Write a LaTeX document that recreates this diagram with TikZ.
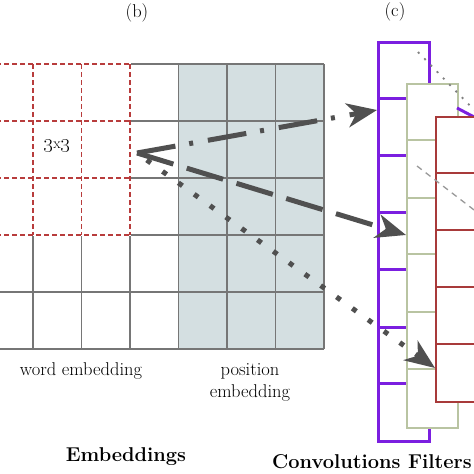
\documentclass[tikz,border=0pt]{standalone}
\usetikzlibrary{arrows.meta}
\definecolor{gridgray}{HTML}{767676}
\definecolor{posfill}{HTML}{D4DFE1}
\definecolor{winred}{HTML}{B83C3C}
\definecolor{filpurple}{HTML}{7B1FE0}
\definecolor{filgreen}{HTML}{B9C4A2}
\definecolor{filred}{HTML}{A83A3A}
\definecolor{arrgray}{HTML}{505050}
\tikzset{
  gridline/.style={draw=gridgray, line width=1.6pt},
  winline/.style={draw=winred, line width=1.5pt, dash pattern=on 5pt off 3pt},
  purplefil/.style={draw=filpurple, line width=3pt, fill=white},
  greenfil/.style={draw=filgreen, line width=2pt, fill=white},
  redfil/.style={draw=filred, line width=2pt, fill=white},
  bigarrow/.style={draw=arrgray, line width=5pt, line cap=butt,
    -{Stealth[length=30pt,width=24pt,inset=9pt,fill=arrgray]}},
  lbl/.style={font=\fontsize{18.5}{22}\selectfont, inner sep=0pt},
  ttl/.style={font=\fontsize{20}{24}\selectfont\bfseries, inner sep=0pt},
}
\begin{document}
\begin{tikzpicture}[x=1pt,y=-1pt]
\useasboundingbox (0,0) rectangle (474,474);
% embeddings grid
\fill[posfill] (178.5,64) rectangle (324,349);
\foreach \xx in {33,81.5,130,178.5,227,275.5,324}
  \draw[gridline] (\xx,64) -- (\xx,349);
\foreach \yy in {64,121,178,235,292,349}
  \draw[gridline] (-20,\yy) -- (324,\yy);
\fill[white] (-20,63) rectangle (131,236);
\foreach \yy in {64,121,178,235}
  \draw[winline] (-20,\yy) -- (130,\yy);
\foreach \xx in {33,81.5,130}
  \draw[winline] (\xx,64) -- (\xx,235);
\node[inner sep=0pt, font=\fontsize{15}{18}\selectfont] (win) at (57,146) {{\fontsize{20}{22}\selectfont\oldstylenums{3}}x{\fontsize{20}{22}\selectfont\oldstylenums{3}}};
% filters
\node[purplefil, rectangle, minimum width=51pt, minimum height=399pt, anchor=north west, inner sep=0pt] (pf) at (377,41) {};
\foreach \yy in {98,155,212,269,327,383}
  \draw[draw=filpurple, line width=3pt] (377,\yy) -- (406,\yy);
\node[greenfil, rectangle, minimum width=51pt, minimum height=344pt, anchor=north west, inner sep=0pt] (gf) at (406,83) {};
\foreach \yy in {140,198,254,312,369}
  \draw[draw=filgreen, line width=2pt] (406,\yy) -- (457,\yy);
\draw[draw=filpurple, line width=3pt] (457,108) -- (476,118);
\node[redfil, rectangle, minimum width=70pt, minimum height=285pt, anchor=north west, inner sep=0pt] (rf) at (435,116) {};
\foreach \yy in {173,230,287,344}
  \draw[draw=filred, line width=2pt] (435,\yy) -- (505,\yy);
% thin guide lines
\coordinate (d1) at (418,52);
\coordinate (d2) at (478,114);
\draw[draw=gray, line width=1.8pt, dash pattern=on 2pt off 7pt] (d1) -- (d2);
\coordinate (e1) at (417,166);
\coordinate (e2) at (478,213);
\draw[draw=gray!80, line width=1.3pt, dash pattern=on 6pt off 5pt] (e1) -- (e2);
% arrows
\coordinate (o) at (137,153);
\coordinate (tp) at (377,110);
\coordinate (tg) at (406,235);
\coordinate (tr) at (435,368);
\draw[bigarrow, dash pattern=on 39pt off 14pt on 4pt off 15pt] (o) -- (tp);
\draw[bigarrow, dash pattern=on 38pt off 14pt] (o) -- (tg);
\draw[bigarrow, dash pattern=on 5pt off 14.5pt, dash phase=-12pt] (o) -- (tr);
% labels
\node[lbl] (b) at (137,13) {(b)};
\node[lbl] (c) at (395,12) {(c)};
\node[lbl] (we) at (81,371) {word embedding};
\node[lbl, align=center] (pe) at (250,382) {position\\embedding};
\node[ttl] (emb) at (126,457) {Embeddings};
\node[ttl] (cf) at (372,462) {Convolutions Filters};
\end{tikzpicture}
\end{document}
